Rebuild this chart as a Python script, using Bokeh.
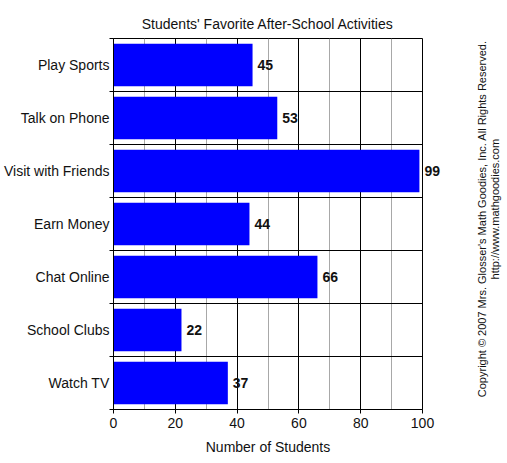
import math
from bokeh.plotting import figure
from bokeh.layouts import row
from bokeh.models import (ColumnDataSource, Range1d, FixedTicker, LabelSet, LinearAxis, Label)
from bokeh.core.properties import value
from bokeh.embed import file_html
from bokeh.resources import INLINE

categories = ["Play Sports", "Talk on Phone", "Visit with Friends", "Earn Money",
              "Chat Online", "School Clubs", "Watch TV"]
students = [45, 53, 99, 44, 66, 22, 37]
x_major_ticks = [0, 20, 40, 60, 80, 100]
x_minor_ticks = [10, 30, 50, 70, 90]
title_text = "Students' Favorite After-School Activities"
x_label = "Number of Students"
copyright_line1 = "Copyright \u00a9 2007 Mrs. Glosser's Math Goodies, Inc. All Rights Reserved."
copyright_line2 = "http://www.mathgoodies.com"

n = len(categories)
centers = [n - i - 0.5 for i in range(n)]
boundaries = list(range(n + 1))

FONT = "Liberation Sans"
TXT = "#111111"
W, H = 455, 463          # main chart
SIDE_W = 52              # copyright strip on the right
FL, FR, FT, FB = 112, 422, 38, 409   # frame edges in canvas pixels
X_MAX = 100
EDGE = 95  # labels of bars longer than this sit beyond the frame edge

inside = [i for i, v in enumerate(students) if v <= EDGE]
outside = [i for i, v in enumerate(students) if v > EDGE]

source = ColumnDataSource(dict(y=centers, value=students, cat=categories))
label_src = ColumnDataSource(dict(
    y=[centers[i] for i in inside], value=[students[i] for i in inside],
    label=[str(students[i]) for i in inside],
))

p = figure(width=W, height=H, output_backend="svg", toolbar_location=None,
           x_range=Range1d(0, X_MAX), y_range=Range1d(0, n),
           min_border_left=FL, min_border_right=W - FR, min_border_top=FT,
           min_border_bottom=H - FB)
p.background_fill_color = "white"
p.border_fill_color = "white"
p.outline_line_color = "black"
p.outline_line_width = 1

p.title.text = title_text
p.title.align = "center"
p.title.text_font = FONT
p.title.text_font_size = "14px"
p.title.text_font_style = "normal"
p.title.text_color = TXT
p.title.standoff = 14

p.hbar(y="y", right="value", left=0, height=0.8, source=source,
       fill_color="#0000ff", line_color=None)

xa = p.xaxis[0]
xa.ticker = FixedTicker(ticks=x_major_ticks, minor_ticks=x_minor_ticks)
xa.axis_line_color = "black"
xa.major_tick_out = 4
xa.major_tick_in = 0
xa.minor_tick_line_color = None
xa.major_label_text_font = FONT
xa.major_label_text_font_size = "14px"
xa.major_label_text_color = TXT
xa.major_label_standoff = 4
xa.axis_label = x_label
xa.axis_label_text_font = FONT
xa.axis_label_text_font_size = "14px"
xa.axis_label_text_font_style = "normal"
xa.axis_label_text_color = TXT
xa.axis_label_standoff = 8

ya = p.yaxis[0]
ya.ticker = FixedTicker(ticks=centers, minor_ticks=boundaries)
ya.major_label_overrides = {c: cat for c, cat in zip(centers, categories)}
ya.axis_line_color = "black"
ya.major_tick_line_color = None
ya.major_tick_out = 3
ya.major_tick_in = 0
ya.minor_tick_out = 4
ya.minor_tick_in = 0
ya.minor_tick_line_color = "black"
ya.major_label_text_font = FONT
ya.major_label_text_font_size = "14px"
ya.major_label_text_color = TXT
ya.major_label_standoff = 0

p.xgrid.ticker = FixedTicker(ticks=x_major_ticks, minor_ticks=x_minor_ticks)
p.xgrid.grid_line_color = "black"
p.xgrid.grid_line_alpha = 1
p.xgrid.minor_grid_line_color = "#a8a8a8"
p.ygrid.ticker = FixedTicker(ticks=boundaries)
p.ygrid.grid_line_color = "black"
p.ygrid.grid_line_alpha = 1

# value labels that fit inside the frame
p.add_layout(LabelSet(x="value", y="y", text="label", source=label_src,
                      x_offset=5, text_baseline="middle", text_align="left",
                      text_font=value(FONT), text_font_size=value("14px"),
                      text_font_style=value("bold"), text_color=value(TXT)))

# right axis: value label beyond the frame edge
r1 = LinearAxis(ticker=FixedTicker(ticks=[centers[i] for i in outside]),
                major_label_overrides={centers[i]: str(students[i]) for i in outside})
r1.axis_line_color = None
r1.major_tick_line_color = None
r1.minor_tick_line_color = None
r1.major_tick_out = 0
r1.major_tick_in = 0
r1.minor_tick_out = 0
r1.minor_tick_in = 0
r1.major_label_standoff = 2
r1.major_label_text_font = FONT
r1.major_label_text_font_size = "14px"
r1.major_label_text_font_style = "bold"
r1.major_label_text_color = TXT
p.add_layout(r1, "right")

# copyright strip: a small figure whose frame fills it (pixel-like ranges)
p2 = figure(width=SIDE_W, height=H, output_backend="svg", toolbar_location=None,
            x_range=Range1d(0, SIDE_W), y_range=Range1d(0, H),
            x_axis_location=None, y_axis_location=None,
            min_border_left=0, min_border_right=0, min_border_top=0,
            min_border_bottom=0)
p2.grid.visible = False
p2.outline_line_color = None
p2.background_fill_color = "white"
p2.border_fill_color = "white"
p2.add_layout(Label(x=26, y=H - 225, text=copyright_line1, angle=math.pi / 2,
                    text_align="center", text_baseline="middle", text_font=FONT,
                    text_font_size="11px", text_color=TXT))
p2.add_layout(Label(x=39, y=H - 213, text=copyright_line2, angle=math.pi / 2,
                    text_align="center", text_baseline="middle", text_font=FONT,
                    text_font_size="11px", text_color=TXT))

layout = row(p, p2)
open("out.html", "w").write(file_html(layout, INLINE))
